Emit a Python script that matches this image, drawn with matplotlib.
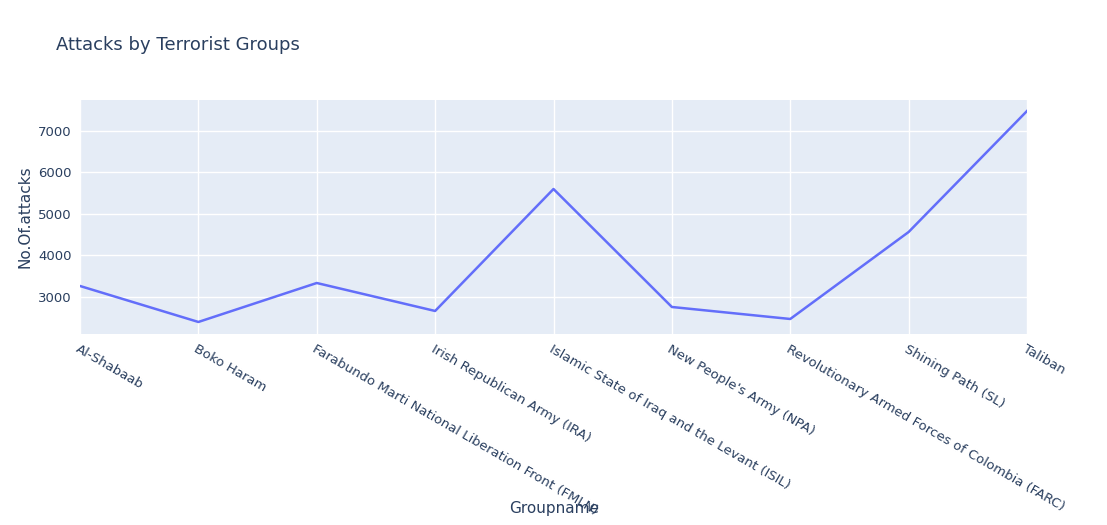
import matplotlib.pyplot as plt

groups = ["Al-Shabaab", "Boko Haram", "Farabundo Marti National Liberation Front (FMLN)",
          "Irish Republican Army (IRA)", "Islamic State of Iraq and the Levant (ISIL)",
          "New People's Army (NPA)", "Revolutionary Armed Forces of Colombia (FARC)",
          "Shining Path (SL)", "Taliban"]
attacks = [3265, 2398, 3337, 2663, 5602, 2759, 2470, 4566, 7482]

fig = plt.figure(figsize=(11.07, 5.25), dpi=100)
ax = fig.add_axes([80/1107, 1-334/525, (1027-80)/1107, 234/525])
ax.set_facecolor('#E5ECF6')
ax.plot(range(len(groups)), attacks, color='#636EFA', lw=1.8)
ax.set_xlim(0, len(groups)-1)
ax.set_ylim(2108, 7747)
ax.set_yticks([3000, 4000, 5000, 6000, 7000])
ax.set_xticks(range(len(groups)))
ax.set_xticklabels(groups, rotation=-30, ha='left', va='top', rotation_mode='anchor')
ax.grid(color='white', lw=1)
ax.set_axisbelow(True)
for s in ax.spines.values():
    s.set_visible(False)
ax.tick_params(length=0, colors='#2a3f5f', labelsize=9.5, pad=6)
ax.set_ylabel('No.Of.attacks', color='#2a3f5f', fontsize=11)
fig.text(554/1107, 1-508/525, 'Groupname', color='#2a3f5f', fontsize=11, ha='center', va='center')
fig.text(56/1107, 1-45/525, 'Attacks by Terrorist Groups', color='#2a3f5f', fontsize=13, va='center')
fig.savefig('out.png')
